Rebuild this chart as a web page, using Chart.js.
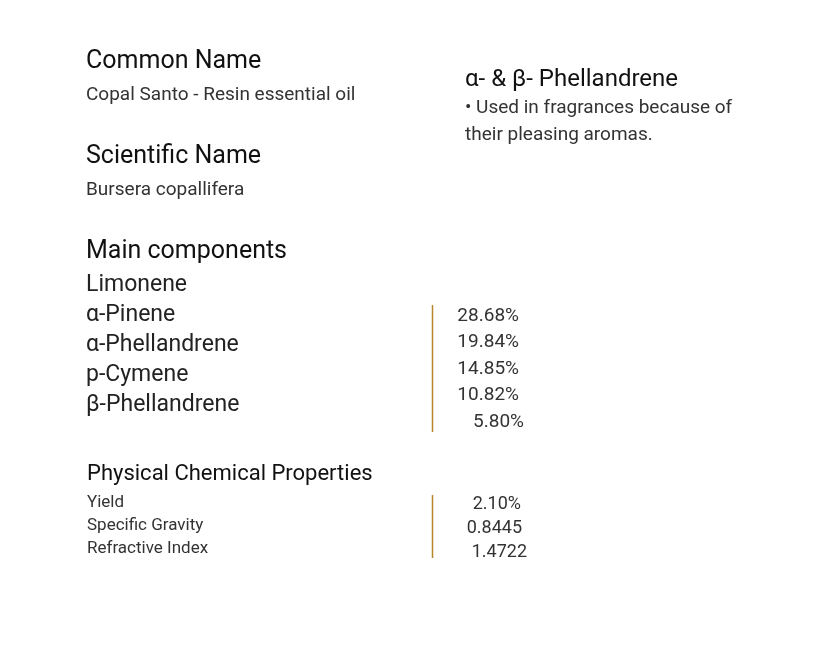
<!DOCTYPE html>
<html>
<head>
<meta charset="utf-8">
<script src="https://cdn.jsdelivr.net/npm/chart.js@4/dist/chart.umd.min.js"></script>
<style>
  html, body { margin: 0; padding: 0; background: #fff; }
  canvas { display: block; }
</style>
</head>
<body>
<canvas id="sheet" width="831" height="652"></canvas>
<script>
const commonName = 'Copal Santo - Resin essential oil';
const scientificName = 'Bursera copallifera';
const components = ['Limonene', 'α-Pinene', 'α-Phellandrene', 'p-Cymene', 'β-Phellandrene'];
const componentValues = ['28.68%', '19.84%', '14.85%', '10.82%', '5.80%'];
const properties = ['Yield', 'Specific Gravity', 'Refractive Index'];
const propertyValues = ['2.10%', '0.8445', '1.4722'];
const noteTitle = 'α- & β- Phellandrene';
const noteLines = ['• Used in fragrances because of', 'their pleasing aromas.'];

const FONT = '"Liberation Sans Narrow", "Roboto", sans-serif';
const GOLD = '#b8862a';

const sheetPlugin = {
    id: 'sheet',
    afterDraw(chart) {
        const ctx = chart.ctx;
        ctx.save();
        ctx.textBaseline = 'middle';
        ctx.textAlign = 'left';

        function text(str, x, y, size, color, weight) {
            ctx.font = (weight || 'normal') + ' ' + size + 'px ' + FONT;
            ctx.fillStyle = color;
            ctx.fillText(str, x, y);
        }

        text('Common Name', 86, 62, 25, '#111');
        text(commonName, 86, 95, 19, '#333');
        text('Scientific Name', 86, 157, 25, '#111');
        text(scientificName, 86, 190, 19, '#333');
        text('Main components', 86, 252, 25, '#111');
        components.forEach((c, i) => text(c, 86, 285 + i * 30, 23, '#222'));

        ctx.textAlign = 'right';
        componentValues.forEach((v, i) => text(v, 519 + (i === 4 ? 5 : 0), 316 + i * 26.5, 19, '#333'));

        ctx.textAlign = 'left';
        text('Physical Chemical Properties', 87, 474, 22, '#111');
        properties.forEach((p, i) => text(p, 87, 503 + i * 23, 17, '#333'));
        ctx.textAlign = 'right';
        const offs = [0, 1, 6];
        propertyValues.forEach((v, i) => text(v, 521 + offs[i], 504 + i * 24, 18, '#333'));

        ctx.textAlign = 'left';
        text(noteTitle, 465, 80, 24, '#111');
        noteLines.forEach((l, i) => text(l, 465, 108 + i * 27, 19, '#333'));

        ctx.strokeStyle = GOLD;
        ctx.lineWidth = 1.5;
        ctx.beginPath();
        ctx.moveTo(432.5, 305); ctx.lineTo(432.5, 432);
        ctx.moveTo(432.5, 495); ctx.lineTo(432.5, 558);
        ctx.stroke();
        ctx.restore();
    }
};

new Chart(document.getElementById('sheet').getContext('2d'), {
    type: 'bar',
    data: {
        labels: components,
        datasets: [{ data: componentValues.map(v => parseFloat(v)), backgroundColor: 'rgba(0,0,0,0)' }]
    },
    options: {
        responsive: false,
        animation: false,
        plugins: { legend: { display: false }, tooltip: { enabled: false } },
        scales: { x: { display: false }, y: { display: false } }
    },
    plugins: [sheetPlugin]
});
</script>
</body>
</html>
